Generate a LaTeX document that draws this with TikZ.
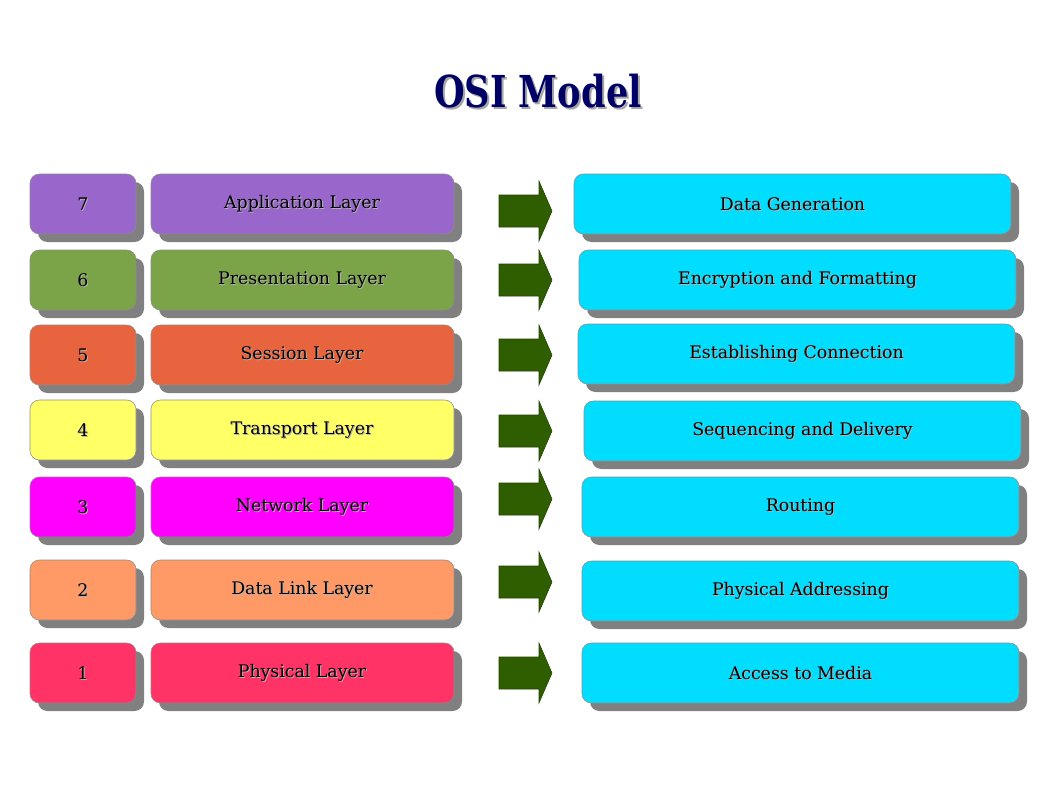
\documentclass[tikz,border=0pt]{standalone}
\usepackage{fontspec}
\setmainfont{DejaVu Serif}
\begin{document}
\begin{tikzpicture}[x=0.75pt,y=-0.75pt,
  box/.style={draw=black!45,line width=0.4pt,rounded corners=7pt},
  shad/.style={fill=black!50,rounded corners=7pt},
  lbl/.style={font=\fontsize{13}{15}\selectfont},
  arr/.style={fill=arrg,draw=arrg!70!black,line width=0.4pt}]
\definecolor{c7}{HTML}{9966CC}\definecolor{c6}{HTML}{7BA348}
\definecolor{c5}{HTML}{E8643E}\definecolor{c4}{HTML}{FFFF66}
\definecolor{c3}{HTML}{FF00FF}\definecolor{c2}{HTML}{FF9966}
\definecolor{c1}{HTML}{FF3366}\definecolor{cy}{HTML}{00DDFF}
\definecolor{arrg}{HTML}{2F5E00}\definecolor{navy}{HTML}{000066}
\useasboundingbox (0,0) rectangle (1058,794);
\node[text=black!35] at (540,93) {\scalebox{0.8}[1]{\fontsize{33}{36}\selectfont\bfseries OSI Model}};
\node[text=navy] (title) at (538,91) {\scalebox{0.8}[1]{\fontsize{33}{36}\selectfont\bfseries OSI Model}};
% rows: num, colour, top, layer, arrow centre, right box left, right top, right text
\foreach \n/\c/\t/\L/\ac/\rl/\rt/\R in {
 7/c7/174/Application Layer/211/574/174/Data Generation,
 6/c6/250/Presentation Layer/280/579/250/Encryption and Formatting,
 5/c5/325/Session Layer/355/578/324/Establishing Connection,
 4/c4/400/Transport Layer/431/584/401/Sequencing and Delivery,
 3/c3/477/Network Layer/499/582/477/Routing,
 2/c2/560/Data Link Layer/582/582/561/Physical Addressing,
 1/c1/643/Physical Layer/673/582/643/Access to Media}{
  \fill[shad] (38,\t+8) rectangle (144,\t+68);
  \fill[shad] (159,\t+8) rectangle (462,\t+68);
  \fill[shad] (\rl+8,\rt+8) rectangle (\rl+445,\rt+68);
  \draw[box,fill=\c] (30,\t) rectangle (136,\t+60);
  \draw[box,fill=\c] (151,\t) rectangle (454,\t+60);
  \draw[box,fill=cy] (\rl,\rt) rectangle (\rl+437,\rt+60);
  \node[lbl,text=black!30] at (84,\t+31) {\n};
  \node[lbl] (num\n) at (83,\t+30) {\n};
  \node[lbl,text=black!30] at (303,\t+31) {\L};
  \node[lbl] (lay\n) at (302,\t+30) {\L};
  \node[lbl,text=black!30] at (\rl+219.5,\rt+31) {\R};
  \node[lbl] (fn\n) at (\rl+218.5,\rt+30) {\R};
  \draw[arr] (499,\ac-16) -- (539,\ac-16) -- (539,\ac-30) -- (552,\ac) -- (539,\ac+30) -- (539,\ac+16) -- (499,\ac+16) -- cycle;
}
\end{tikzpicture}
\end{document}
